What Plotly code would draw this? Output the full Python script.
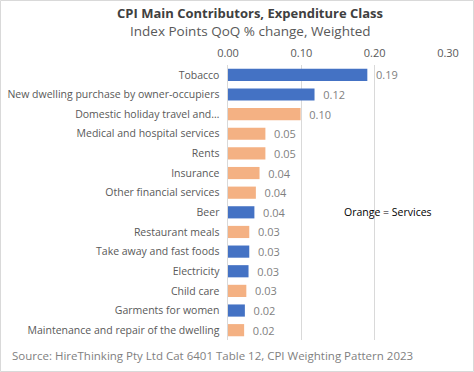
import plotly.graph_objects as go

categories = [
    "Tobacco",
    "New dwelling purchase by owner-occupiers",
    "Domestic holiday travel and…",
    "Medical and hospital services",
    "Rents",
    "Insurance",
    "Other financial services",
    "Beer",
    "Restaurant meals",
    "Take away and fast foods",
    "Electricity",
    "Child care",
    "Garments for women",
    "Maintenance and repair of the dwelling",
]
values = [0.190, 0.118, 0.099, 0.051, 0.051, 0.043, 0.038, 0.036, 0.029, 0.029, 0.028, 0.025, 0.023, 0.022]
is_service = [False, False, True, True, True, True, True, False, True, False, False, True, False, True]
x_ticks = [0.0, 0.1, 0.2, 0.3]

BLUE = "#4472C4"
ORANGE = "#F4B183"
colors = [ORANGE if s else BLUE for s in is_service]
FONT = "Open Sans"

fig = go.Figure(
    go.Bar(
        x=values,
        y=categories,
        orientation="h",
        marker=dict(color=colors, line=dict(width=0)),
        text=["\u00a0\u00a0" + f"{v:.2f}" for v in values],
        textposition="outside",
        constraintext="none",
        textfont=dict(color="#7F7F7F", size=11, family=FONT),
        cliponaxis=False,
        width=0.62,
    )
)

H = 372; W = 474
pl, pr, pt, pb = 228, 26, 65, 32
ph = H - pt - pb; pw = W - pl - pr
def px_to_paper_x(px): return (px - pl) / pw
def px_to_paper_y(py): return (H - pb - py) / ph

fig.update_layout(
    width=W,
    height=H,
    margin=dict(l=pl, r=pr, t=pt, b=pb, autoexpand=False),
    paper_bgcolor="white",
    plot_bgcolor="white",
    showlegend=False,
    font=dict(family=FONT, color="#595959", size=10),
    xaxis=dict(
        range=[0, 0.30],
        side="top",
        tickvals=x_ticks,
        ticktext=[f"{t:.2f}" for t in x_ticks],
        showgrid=True,
        gridcolor="#D9D9D9",
        gridwidth=1,
        zeroline=False,
        showline=False,
        ticks="",
        ticklabelstandoff=5,
        tickfont=dict(size=11, color="#595959"),
    ),
    yaxis=dict(
        autorange="reversed",
        showgrid=False,
        zeroline=False,
        showline=True,
        linecolor="#D9D9D9",
        ticks="",
        ticksuffix="  ",
        tickfont=dict(size=10.5, color="#595959"),
    ),
    annotations=[
        dict(text="<b>CPI Main Contributors, Expenditure Class</b>", xref="paper", yref="paper",
             x=px_to_paper_x(250), y=px_to_paper_y(13), xanchor="center", yanchor="middle", showarrow=False,
             font=dict(size=13, color="#404040", family=FONT)),
        dict(text="Index Points QoQ % change, Weighted", xref="paper", yref="paper",
             x=px_to_paper_x(250), y=px_to_paper_y(31), xanchor="center", yanchor="middle", showarrow=False,
             font=dict(size=13.5, color="#595959", family=FONT)),
        dict(text="Orange = Services", xref="x", yref="y", x=0.218, y="Beer",
             xanchor="center", yanchor="middle", showarrow=False,
             font=dict(size=10.5, color="#000000", family=FONT)),
        dict(text="Source: HireThinking Pty Ltd Cat 6401 Table 12, CPI Weighting Pattern 2023",
             xref="paper", yref="paper", x=px_to_paper_x(10), y=px_to_paper_y(355),
             xanchor="left", yanchor="middle", showarrow=False,
             font=dict(size=11.5, color="#7F7F7F", family=FONT)),
    ],
)

fig.add_shape(type="rect", xref="paper", yref="paper",
              x0=px_to_paper_x(0.5), x1=px_to_paper_x(W - 0.5),
              y0=px_to_paper_y(H - 0.5), y1=px_to_paper_y(0.5),
              line=dict(color="#D9D9D9", width=1), layer="below")

fig.write_html("out.html", config={"displayModeBar": False},
               post_script="document.body.style.margin='0';document.body.style.padding='0';")
